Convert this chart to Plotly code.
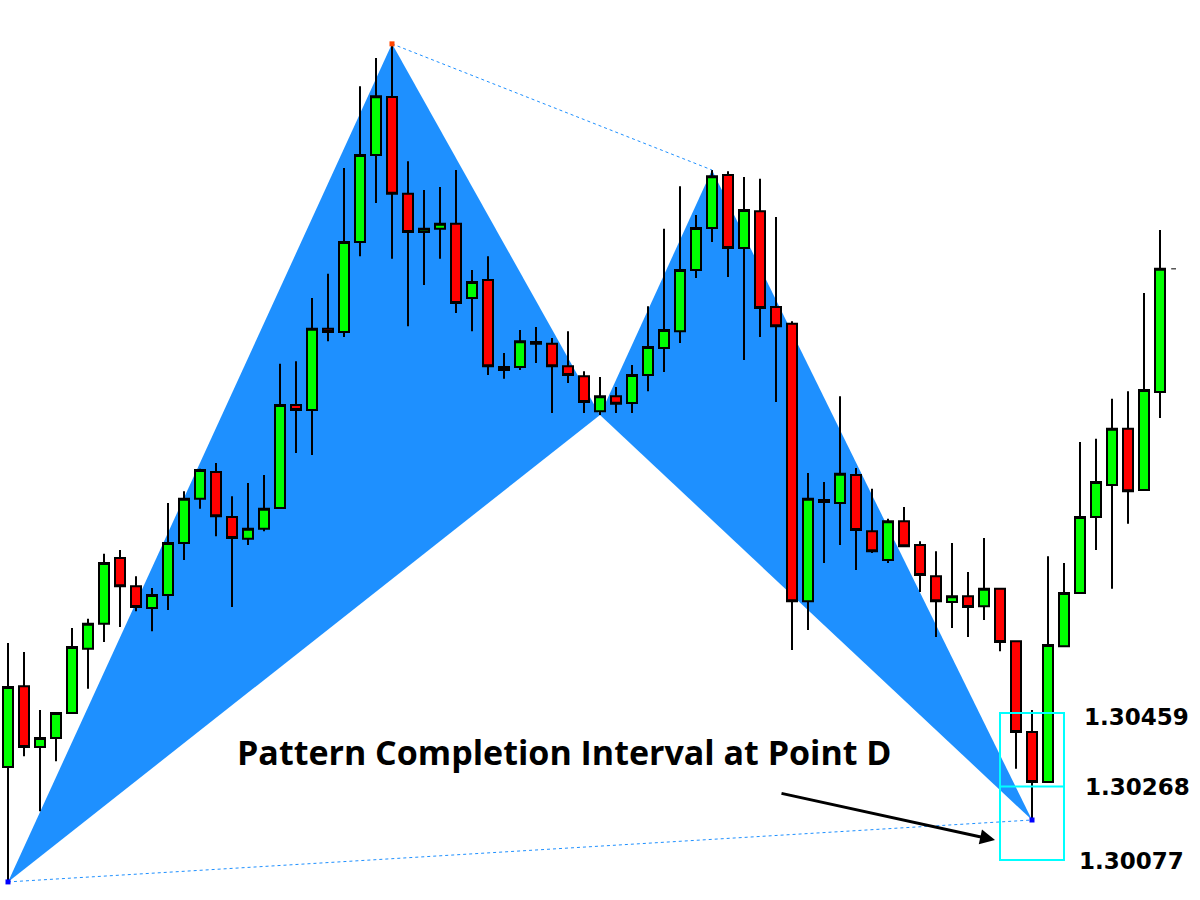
import plotly.graph_objects as go

# ---- candle data (bar index 0..72) ----
opens = [1.30319, 1.30529, 1.30371, 1.30394, 1.30459, 1.30626, 1.30691, 1.30862, 1.30789, 1.30732,
         1.30766, 1.30901, 1.31016, 1.31086, 1.30969, 1.30912, 1.30938, 1.30992, 1.31260, 1.31247,
         1.31458, 1.31450, 1.31684, 1.31910, 1.32061, 1.31809, 1.31710, 1.31718, 1.31731, 1.31538,
         1.31585, 1.31351, 1.31359, 1.31424, 1.31419, 1.31361, 1.31335, 1.31244, 1.31283, 1.31265,
         1.31338, 1.31408, 1.31452, 1.31611, 1.31720, 1.31858, 1.31668, 1.31764, 1.31515, 1.31471,
         1.30750, 1.31013, 1.31005, 1.31078, 1.30932, 1.30857, 1.30958, 1.30896, 1.30815, 1.30748,
         1.30763, 1.30737, 1.30782, 1.30646, 1.30410, 1.30280, 1.30633, 1.30771, 1.30969, 1.31052,
         1.31198, 1.31039, 1.31294]
highs = [1.30641, 1.30618, 1.30467, 1.30459, 1.30680, 1.30704, 1.30873, 1.30883, 1.30815, 1.30784,
         1.31005, 1.31036, 1.31094, 1.31109, 1.31023, 1.31057, 1.31078, 1.31367, 1.31374, 1.31538,
         1.31601, 1.31876, 1.32089, 1.32162, 1.32199, 1.31894, 1.31819, 1.31827, 1.31871, 1.31611,
         1.31647, 1.31395, 1.31455, 1.31463, 1.31434, 1.31452, 1.31348, 1.31333, 1.31307, 1.31364,
         1.31517, 1.31718, 1.31829, 1.31754, 1.31871, 1.31868, 1.31853, 1.31848, 1.31749, 1.31478,
         1.31083, 1.31060, 1.31283, 1.31096, 1.31042, 1.30964, 1.30995, 1.30906, 1.30880, 1.30901,
         1.30826, 1.30914, 1.30784, 1.30646, 1.30467, 1.30867, 1.30849, 1.31164, 1.31172, 1.31276,
         1.31296, 1.31551, 1.31715]
lows = [1.30020, 1.30347, 1.30204, 1.30334, 1.30459, 1.30522, 1.30644, 1.30683, 1.30724, 1.30672,
        1.30727, 1.30857, 1.30990, 1.30919, 1.30735, 1.30896, 1.30932, 1.30992, 1.31135, 1.31130,
        1.31426, 1.31437, 1.31647, 1.31785, 1.31640, 1.31465, 1.31572, 1.31640, 1.31499, 1.31452,
        1.31338, 1.31328, 1.31351, 1.31369, 1.31239, 1.31317, 1.31239, 1.31234, 1.31239, 1.31239,
        1.31296, 1.31346, 1.31421, 1.31590, 1.31684, 1.31593, 1.31377, 1.31437, 1.31268, 1.30623,
        1.30675, 1.30849, 1.30896, 1.30831, 1.30875, 1.30849, 1.30893, 1.30774, 1.30657, 1.30680,
        1.30657, 1.30701, 1.30620, 1.30314, 1.30181, 1.30280, 1.30633, 1.30769, 1.30883, 1.30782,
        1.30951, 1.31039, 1.31226]
closes = [1.30527, 1.30371, 1.30394, 1.30459, 1.30631, 1.30691, 1.30849, 1.30789, 1.30735, 1.30766,
          1.30901, 1.31016, 1.31091, 1.30971, 1.30914, 1.30938, 1.30990, 1.31260, 1.31247, 1.31458,
          1.31450, 1.31684, 1.31910, 1.32063, 1.31809, 1.31710, 1.31718, 1.31731, 1.31525, 1.31580,
          1.31361, 1.31359, 1.31426, 1.31419, 1.31361, 1.31338, 1.31268, 1.31283, 1.31263, 1.31338,
          1.31411, 1.31455, 1.31611, 1.31720, 1.31855, 1.31668, 1.31767, 1.31512, 1.31465, 1.30750,
          1.31016, 1.31008, 1.31081, 1.30935, 1.30880, 1.30958, 1.30893, 1.30818, 1.30750, 1.30763,
          1.30735, 1.30782, 1.30644, 1.30410, 1.30280, 1.30636, 1.30771, 1.30969, 1.31060, 1.31198,
          1.31036, 1.31299, 1.31614]
bars = list(range(len(opens)))

# ---- harmonic pattern points X, A, B, C, D ----
pattern_names = ["X", "A", "B", "C", "D"]
pattern_bars = [0, 24, 37, 44, 64]
pattern_prices = [1.30020, 1.32199, 1.31234, 1.31871, 1.30181]

# ---- completion interval ----
interval_bars = [62, 66]
interval_levels = [1.30459, 1.30268, 1.30077]
interval_labels = ["1.30459", "1.30268", "1.30077"]
label_bars = [70.5, 70.6, 70.2]
label_yshift = [-4, 0, -1]

headline = "Pattern Completion Interval at Point D"
headline_pos = (34.8, 1.30358)
arrow_tail = (48.25, 1.30251)
arrow_head = (61.69, 1.30129)

BLUE = "#1E90FF"

fig = go.Figure()

X, A, B, C, D = [(b, p) for b, p in zip(pattern_bars, pattern_prices)]

# XAB and BCD triangles (below the candles)
for tri in [(X, A, B), (B, C, D)]:
    path = "M {} {} L {} {} L {} {} Z".format(tri[0][0], tri[0][1], tri[1][0], tri[1][1],
                                               tri[2][0], tri[2][1])
    fig.add_shape(type="path", path=path, xref="x", yref="y", fillcolor=BLUE,
                  line=dict(width=0), layer="below")

# dotted connectors X-D, A-C
for p1, p2 in [(X, D), (A, C)]:
    fig.add_trace(go.Scatter(x=[p1[0], p2[0]], y=[p1[1], p2[1]], mode="lines",
                             line=dict(color=BLUE, width=1, dash="dot"), hoverinfo="skip"))

fig.add_trace(go.Candlestick(
    x=bars, open=opens, high=highs, low=lows, close=closes,
    increasing=dict(fillcolor="#00FF00", line=dict(color="black", width=2)),
    decreasing=dict(fillcolor="#FF0000", line=dict(color="black", width=2)),
    whiskerwidth=0,
))

# point markers
fig.add_trace(go.Scatter(x=[A[0]], y=[A[1]], mode="markers",
                         marker=dict(symbol="square", size=5, color="#FF4500")))
fig.add_trace(go.Scatter(x=[X[0], D[0]], y=[X[1], D[1]], mode="markers",
                         marker=dict(symbol="square", size=5, color="#0000FF")))

# current price tick
fig.add_trace(go.Scatter(x=[bars[-1] + 0.7, bars[-1] + 1.0], y=[closes[-1], closes[-1]], mode="lines",
                         line=dict(color="black", width=1)))

# completion interval box
fig.add_shape(type="rect", x0=interval_bars[0], x1=interval_bars[1],
              y0=interval_levels[2], y1=interval_levels[0],
              line=dict(color="#00FFFF", width=2), fillcolor="rgba(0,0,0,0)")
fig.add_shape(type="line", x0=interval_bars[0], x1=interval_bars[1],
              y0=interval_levels[1], y1=interval_levels[1],
              line=dict(color="#00FFFF", width=2))

for lb, lvl, txt, ys in zip(label_bars, interval_levels, interval_labels, label_yshift):
    fig.add_annotation(x=lb, y=lvl, text="<b>" + txt + "</b>", showarrow=False, yshift=ys,
                       font=dict(family="DejaVu Sans", size=23, color="black"))

fig.add_annotation(x=headline_pos[0], y=headline_pos[1], text="<b>" + headline + "</b>",
                   showarrow=False, font=dict(family="Open Sans", size=34, color="black"))

fig.add_annotation(x=arrow_head[0], y=arrow_head[1], ax=arrow_tail[0], ay=arrow_tail[1],
                   xref="x", yref="y", axref="x", ayref="y", text="", showarrow=True,
                   arrowhead=2, arrowsize=1, arrowwidth=3, arrowcolor="black")

fig.update_layout(
    width=1200, height=900,
    margin=dict(l=0, r=0, t=0, b=0),
    paper_bgcolor="white", plot_bgcolor="white",
    showlegend=False,
    boxgap=0.375, boxgroupgap=0,
    xaxis=dict(range=[-0.5, 74.5], visible=False, rangeslider=dict(visible=False)),
    yaxis=dict(range=[1.32313 - 0.000026 * 900, 1.32313], visible=False),
)

fig.write_html("out.html", config={"displayModeBar": False},
               post_script="document.body.style.margin='0';document.body.style.padding='0';")
